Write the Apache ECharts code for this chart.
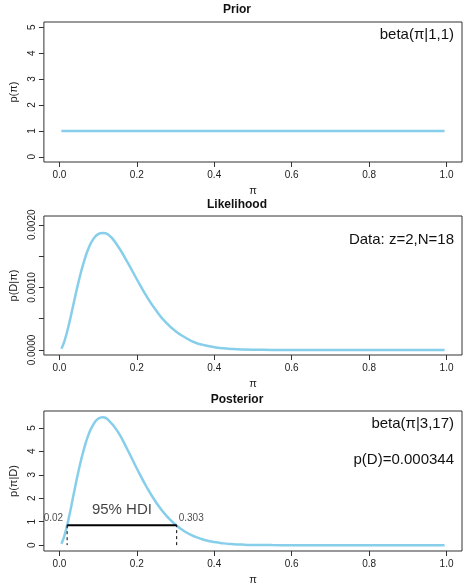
<!DOCTYPE html>
<html>
<head>
    <meta charset="utf-8">
    <script src="https://cdn.jsdelivr.net/npm/echarts@6/dist/echarts.min.js"></script>
</head>
<body style="margin:0;background:#fff;">
    <div id="chart" style="width:474px;height:586px;"></div>
    <script>
        // values
        var theta = [0.005, 0.0125, 0.025, 0.0375, 0.05, 0.0625, 0.075, 0.0875, 0.1, 0.1125, 0.125, 0.15, 0.175, 0.2, 0.225, 0.25, 0.275, 0.3, 0.325, 0.35, 0.375, 0.4, 0.425, 0.45, 0.475, 0.5, 0.55, 0.6, 0.7, 0.8, 0.9, 0.995];
        var likelihood = [0.00002, 0.000128, 0.000417, 0.000763, 0.0011, 0.00139, 0.00162, 0.00177, 0.00185, 0.00187, 0.00185, 0.00167, 0.00141, 0.00113, 0.00086, 0.00063, 0.00044, 0.0003, 0.0002, 0.00012, 0.000076, 0.000045, 0.000026, 0.000014, 0.0000075, 0.000004, 0.0000008, 0, 0, 0, 0, 0];
        var posterior = [0.06, 0.37, 1.21, 2.22, 3.2, 4.04, 4.7, 5.14, 5.39, 5.45, 5.36, 4.86, 4.1, 3.27, 2.49, 1.82, 1.28, 0.87, 0.57, 0.36, 0.22, 0.13, 0.075, 0.041, 0.022, 0.011, 0.002, 0, 0, 0, 0, 0];
        var priorX = [0.005, 0.995];
        var priorY = [1, 1];
        var hdi = [0.02, 0.303];
        var hdiHeight = 0.85;
        var xTicks = [0, 0.2, 0.4, 0.6, 0.8, 1];
        var densTicks = [0, 1, 2, 3, 4, 5];
        var likeTicks = [0, 0.0005, 0.001, 0.0015, 0.002];
        var likeLabels = [0, 0.001, 0.002];

        function pairs(xs, ys) {
            return xs.map(function (x, i) { return [x, ys[i]]; });
        }

        var font = 'Liberation Sans, Arial, sans-serif';
        var tops = [22, 216, 411];
        var heights = [140, 139, 140];
        var yr = [[-0.2, 5.2], [-0.00008, 0.00214], [-0.25, 5.72]];

        var grids = [], xAxes = [], yAxes = [];
        for (var i = 0; i < 3; i++) {
            grids.push({ left: 35, right: 12, top: tops[i], height: heights[i], show: true, borderColor: '#333', borderWidth: 1 });
            xAxes.push({
                type: 'value', gridIndex: i, min: -0.04, max: 1.04,
                axisLine: { show: false, onZero: false }, splitLine: { show: false },
                axisTick: { show: true, length: 5, lineStyle: { color: '#333' }, customValues: xTicks },
                axisLabel: { customValues: xTicks, color: '#222', fontSize: 10, fontFamily: font, margin: 8,
                    formatter: function (v) { return v.toFixed(1); } },
                name: 'π', nameLocation: 'middle', nameGap: 23, nameTextStyle: { fontSize: 11, color: '#222', fontFamily: font }
            });
            var ticks = i == 1 ? likeTicks : densTicks;
            var labs = i == 1 ? likeLabels : densTicks;
            yAxes.push({
                type: 'value', gridIndex: i, min: yr[i][0], max: yr[i][1],
                axisLine: { show: false, onZero: false }, splitLine: { show: false },
                axisTick: { show: true, length: 5, lineStyle: { color: '#333' }, customValues: ticks },
                axisLabel: { customValues: labs, rotate: 90, color: '#222', fontSize: 10, fontFamily: font, margin: 7,
                    formatter: function (v) { return String(v); } },
                name: ['p(π)', 'p(D|π)', 'p(π|D)'][i], nameLocation: 'middle', nameGap: 21, nameRotate: 90,
                nameTextStyle: { fontSize: 11, color: '#222', fontFamily: font }
            });
        }
        yAxes[1].axisLabel.formatter = function (v) { return v.toFixed(4); };

        var curve = { type: 'line', symbol: 'none', smooth: true, lineStyle: { color: '#87CEEB', width: 2.5 }, z: 3 };
        function withIdx(obj, i, data) {
            var o = Object.assign({}, obj);
            o.xAxisIndex = i; o.yAxisIndex = i; o.data = data;
            return o;
        }

        var option = {
            animation: false,
            grid: grids, xAxis: xAxes, yAxis: yAxes,
            series: [
                withIdx(curve, 0, pairs(priorX, priorY)),
                withIdx(curve, 1, pairs(theta, likelihood)),
                withIdx(curve, 2, pairs(theta, posterior)),
                { type: 'line', xAxisIndex: 2, yAxisIndex: 2, symbol: 'none', lineStyle: { color: '#000', width: 2 },
                  data: [[hdi[0], hdiHeight], [hdi[1], hdiHeight]], z: 4 },
                { type: 'line', xAxisIndex: 2, yAxisIndex: 2, symbol: 'none', lineStyle: { color: '#000', width: 1, type: [3, 3] },
                  data: [[hdi[0], hdiHeight], [hdi[0], 0], null, [hdi[1], 0], [hdi[1], hdiHeight]], connectNulls: false, z: 4 },
                { type: 'scatter', xAxisIndex: 2, yAxisIndex: 2, symbolSize: 0,
                  data: [
                      { value: [hdi[0], hdiHeight], label: { show: true, position: 'left', distance: 4, offset: [0, -7], formatter: String(hdi[0]), fontSize: 10, color: '#222', fontFamily: font } },
                      { value: [hdi[1], hdiHeight], label: { show: true, position: 'right', distance: 2, offset: [0, -7], formatter: String(hdi[1]), fontSize: 10, color: '#222', fontFamily: font } },
                      { value: [(hdi[0] + hdi[1]) / 2, hdiHeight], label: { show: true, position: 'top', distance: 8, formatter: '95% HDI', fontSize: 15, color: '#111', fontFamily: font } }
                  ] }
            ],
            graphic: [
                { type: 'text', left: 'center', top: 4, style: { text: 'Prior', font: 'bold 12px ' + font, fill: '#111' } },
                { type: 'text', left: 'center', top: 199, style: { text: 'Likelihood', font: 'bold 12px ' + font, fill: '#111' } },
                { type: 'text', left: 'center', top: 394, style: { text: 'Posterior', font: 'bold 12px ' + font, fill: '#111' } },
                { type: 'text', right: 20, top: 27, style: { text: 'beta(π|1,1)', font: '15px ' + font, fill: '#111' } },
                { type: 'text', right: 20, top: 232, style: { text: 'Data: z=2,N=18', font: '15px ' + font, fill: '#111' } },
                { type: 'text', right: 20, top: 416, style: { text: 'beta(π|3,17)', font: '15px ' + font, fill: '#111' } },
                { type: 'text', right: 20, top: 452, style: { text: 'p(D)=0.000344', font: '15px ' + font, fill: '#111' } }
            ]
        };
        var myChart = echarts.init(document.getElementById('chart'));
        myChart.setOption(option);
    </script>
</body>
</html>
